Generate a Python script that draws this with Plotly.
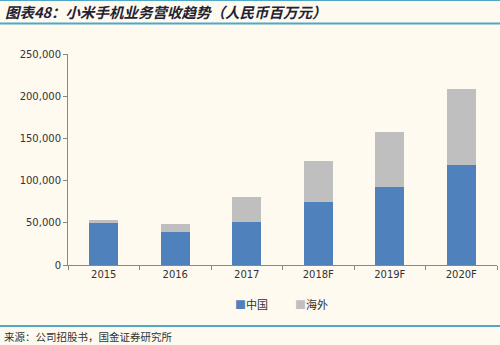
import plotly.graph_objects as go

years = ["2015", "2016", "2017", "2018F", "2019F", "2020F"]
china = [49500, 39500, 51500, 75000, 92500, 118000]
overseas = [4300, 9300, 29000, 48500, 65500, 90500]
tick_vals = [0, 50000, 100000, 150000, 200000, 250000]
series_names = ["中国", "海外"]
series_colors = ["#4F81BD", "#BFBFBF"]

BG = "#FEFAF0"
LINE = "#4FA8C6"

fig = go.Figure()
fig.add_trace(go.Bar(name=series_names[0], x=years, y=china, marker_color=series_colors[0],
                     marker_line_width=0, showlegend=False))
fig.add_trace(go.Bar(name=series_names[1], x=years, y=overseas, marker_color=series_colors[1],
                     marker_line_width=0, showlegend=False))

L, R, T, B = 68, 3, 54, 80
W, H = 500, 345
pw, ph = W - L - R, H - T - B

def px2x(px):
    return (px - L) / pw

def py2y(py):
    return (H - B - py) / ph

annotations = [
    dict(text="<b><i>图表48：小米手机业务营收趋势（人民币百万元）</i></b>",
         xref="paper", yref="paper", x=px2x(3), y=py2y(12), xanchor="left",
         yanchor="middle", showarrow=False,
         font=dict(family="Noto Sans CJK SC", size=14.5, color="#222233")),
    dict(text="来源：公司招股书，国金证券研究所",
         xref="paper", yref="paper", x=px2x(2), y=py2y(336), xanchor="left",
         yanchor="middle", showarrow=False,
         font=dict(family="Noto Sans CJK SC", size=10.5, color="#333333")),
]
for i, (nm, col) in enumerate(zip(series_names, series_colors)):
    annotations.append(dict(
        text=f"<span style='color:{col}'>■</span>{nm}",
        xref="paper", yref="paper", x=px2x(233 + i * 60), y=py2y(304),
        xanchor="left", yanchor="middle", showarrow=False,
        font=dict(family="Noto Sans CJK SC", size=11, color="#333333")))

fig.update_layout(
    width=W, height=H,
    barmode="stack", bargap=0.6,
    paper_bgcolor=BG, plot_bgcolor=BG,
    margin=dict(l=L, r=R, t=T, b=B),
    font=dict(family="Verdana, DejaVu Sans, sans-serif", size=10, color="#333333"),
    showlegend=False,
    xaxis=dict(showline=True, linecolor="#888888", linewidth=1, ticks="outside",
               tickson="boundaries", ticklen=4, tickcolor="#888888",
               tickfont=dict(size=10, color="#333333")),
    yaxis=dict(range=[0, 250000], tickvals=tick_vals, tickformat=",",
               showline=True, linecolor="#888888", linewidth=1, ticks="outside",
               ticklen=4, tickcolor="#888888", showgrid=False, zeroline=False,
               tickfont=dict(size=10, color="#333333")),
    shapes=[
        dict(type="line", xref="paper", yref="paper", x0=px2x(0), x1=px2x(500),
             y0=py2y(0.5), y1=py2y(0.5), line=dict(color=LINE, width=1)),
        dict(type="line", xref="paper", yref="paper", x0=px2x(0), x1=px2x(500),
             y0=py2y(23.5), y1=py2y(23.5), line=dict(color=LINE, width=2)),
        dict(type="line", xref="paper", yref="paper", x0=px2x(0), x1=px2x(500),
             y0=py2y(326), y1=py2y(326), line=dict(color=LINE, width=2)),
    ],
    annotations=annotations,
)

fig.write_html("out.html")
